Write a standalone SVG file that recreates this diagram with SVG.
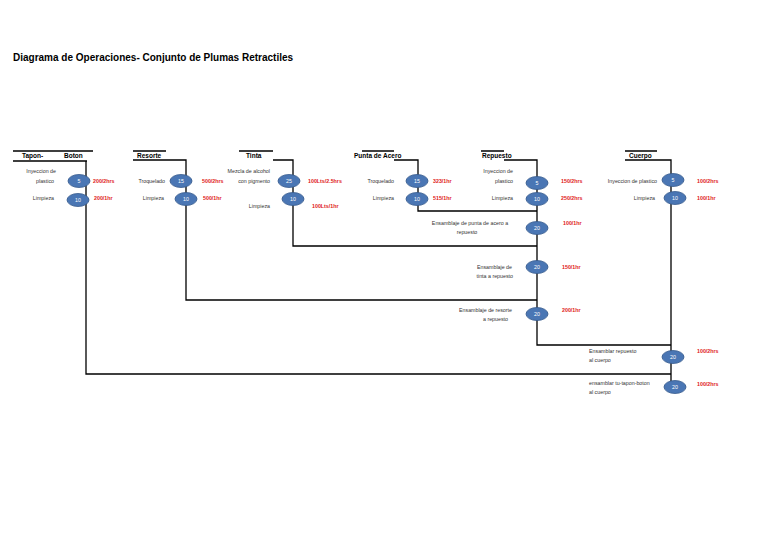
<svg xmlns="http://www.w3.org/2000/svg" width="768" height="543" viewBox="0 0 768 543">
<style>
text{font-family:"Liberation Sans",Arial,sans-serif}
.t{font-size:10px;font-weight:bold}
.h{font-size:6.5px;font-weight:bold}
.l{font-size:5.3px;fill:#333}
.r{font-size:5.3px;fill:#e02020;font-weight:bold}
.n{font-size:5.3px;fill:#fff;text-anchor:middle}
.e{fill:#4a76b4;stroke:#35598c;stroke-width:0.8}
.ln{stroke:#000;stroke-width:1.3;fill:none}
.e2{text-anchor:end}
</style>
<rect width="768" height="543" fill="#fff"/>
<text class="t" x="13" y="61">Diagrama de Operaciones- Conjunto de Plumas Retractiles</text>
<g id="connectors" class="ln">
<path d="M13 151H93M13 161H87M86 161V374H671"/>
<path d="M133 151H166M133 160H186V300H537"/>
<path d="M239 151H273M273 160H293V246H537"/>
<path d="M362 151H394M394 160H418V211H537"/>
<path d="M481 151H504M504 160H537V345H671"/>
<path d="M625 151H657M625 160H671V388"/>
</g>
<g id="tapon">
<text class="h" x="22" y="158">Tapon-</text><text class="h" x="64" y="158">Boton</text>
<text class="l e2" x="56" y="173">Inyeccion de</text><text class="l e2" x="54" y="183">plastico</text><text class="l e2" x="54" y="200">Limpieza</text>
<ellipse class="e" cx="79" cy="181" rx="11" ry="6.5"/><text class="n" x="79" y="183">5</text>
<ellipse class="e" cx="78" cy="200" rx="11" ry="6.5"/><text class="n" x="78" y="202">10</text>
<text class="r" x="93" y="183">200/2hrs</text><text class="r" x="94" y="200">200/1hr</text>
</g>
<g id="resorte">
<text class="h" x="137" y="158">Resorte</text>
<text class="l e2" x="165" y="183">Troquelado</text><text class="l e2" x="164" y="200">Limpieza</text>
<ellipse class="e" cx="181" cy="181" rx="11" ry="6.5"/><text class="n" x="181" y="183">15</text>
<ellipse class="e" cx="186" cy="199" rx="11" ry="6.5"/><text class="n" x="186" y="201">10</text>
<text class="r" x="202" y="183">500/2hrs</text><text class="r" x="203" y="200">500/1hr</text>
</g>
<g id="tinta">
<text class="h" x="246" y="158">Tinta</text>
<text class="l e2" x="270" y="173">Mezcla de alcohol</text><text class="l e2" x="270" y="183">con pigmento</text><text class="l e2" x="270" y="208">Limpieza</text>
<ellipse class="e" cx="289" cy="181" rx="11" ry="6.5"/><text class="n" x="289" y="183">25</text>
<ellipse class="e" cx="293" cy="199" rx="11" ry="6.5"/><text class="n" x="293" y="201">10</text>
<text class="r" x="308" y="183">100Lts/2.5hrs</text><text class="r" x="312" y="208">100Lts/1hr</text>
</g>
<g id="punta">
<text class="h" x="354" y="158">Punta de Acero</text>
<text class="l e2" x="394" y="183">Troquelado</text><text class="l e2" x="394" y="200">Limpieza</text>
<ellipse class="e" cx="417" cy="181" rx="11" ry="6.5"/><text class="n" x="417" y="183">15</text>
<ellipse class="e" cx="417" cy="199" rx="11" ry="6.5"/><text class="n" x="417" y="201">10</text>
<text class="r" x="433" y="183">323/1hr</text><text class="r" x="433" y="200">515/1hr</text>
</g>
<g id="repuesto">
<text class="h" x="482" y="158">Repuesto</text>
<text class="l e2" x="513" y="173">Inyeccion de</text><text class="l e2" x="513" y="183">plastico</text><text class="l e2" x="513" y="200">Limpieza</text>
<ellipse class="e" cx="537" cy="183" rx="11" ry="6.5"/><text class="n" x="537" y="185">5</text>
<ellipse class="e" cx="537" cy="199" rx="11" ry="6.5"/><text class="n" x="537" y="201">10</text>
<text class="r" x="561" y="183">150/2hrs</text><text class="r" x="561" y="200">250/2hrs</text>
</g>
<g id="ens-punta">
<text class="l" x="470" y="225" text-anchor="middle">Ensamblaje de punta de acero a</text><text class="l" x="467" y="234" text-anchor="middle">repuesto</text>
<ellipse class="e" cx="537" cy="228" rx="11" ry="6.5"/><text class="n" x="537" y="230">20</text>
<text class="r" x="563" y="225">100/1hr</text>
</g>
<g id="ens-tinta">
<text class="l e2" x="512" y="269">Ensamblaje de</text><text class="l e2" x="513" y="278">tinta a repuesto</text>
<ellipse class="e" cx="537" cy="267" rx="11" ry="6.5"/><text class="n" x="537" y="269">20</text>
<text class="r" x="562" y="269">150/1hr</text>
</g>
<g id="ens-resorte">
<text class="l e2" x="512" y="312">Ensamblaje de resorte</text><text class="l e2" x="508" y="321">a repuesto</text>
<ellipse class="e" cx="537" cy="314" rx="11" ry="6.5"/><text class="n" x="537" y="316">20</text>
<text class="r" x="562" y="312">200/1hr</text>
</g>
<g id="cuerpo">
<text class="h" x="629" y="158">Cuerpo</text>
<text class="l e2" x="657" y="183">Inyeccion de plastico</text><text class="l e2" x="655" y="200">Limpieza</text>
<ellipse class="e" cx="673" cy="180" rx="11" ry="6.5"/><text class="n" x="673" y="182">5</text>
<ellipse class="e" cx="675" cy="198" rx="11" ry="6.5"/><text class="n" x="675" y="200">10</text>
<text class="r" x="697" y="183">100/2hrs</text><text class="r" x="697" y="200">100/1hr</text>
</g>
<g id="ens-repuesto">
<text class="l" x="589" y="353">Ensamblar repuesto</text><text class="l" x="589" y="362">al cuerpo</text>
<ellipse class="e" cx="673" cy="357" rx="11" ry="6.5"/><text class="n" x="673" y="359">20</text>
<text class="r" x="697" y="353">100/2hrs</text>
</g>
<g id="ens-tapon">
<text class="l" x="589" y="385">ensamblar  tu-tapon-boton</text><text class="l" x="589" y="394">al cuerpo</text>
<ellipse class="e" cx="675" cy="387" rx="11" ry="6.5"/><text class="n" x="675" y="389">20</text>
<text class="r" x="697" y="386">100/2hrs</text>
</g>
</svg>
